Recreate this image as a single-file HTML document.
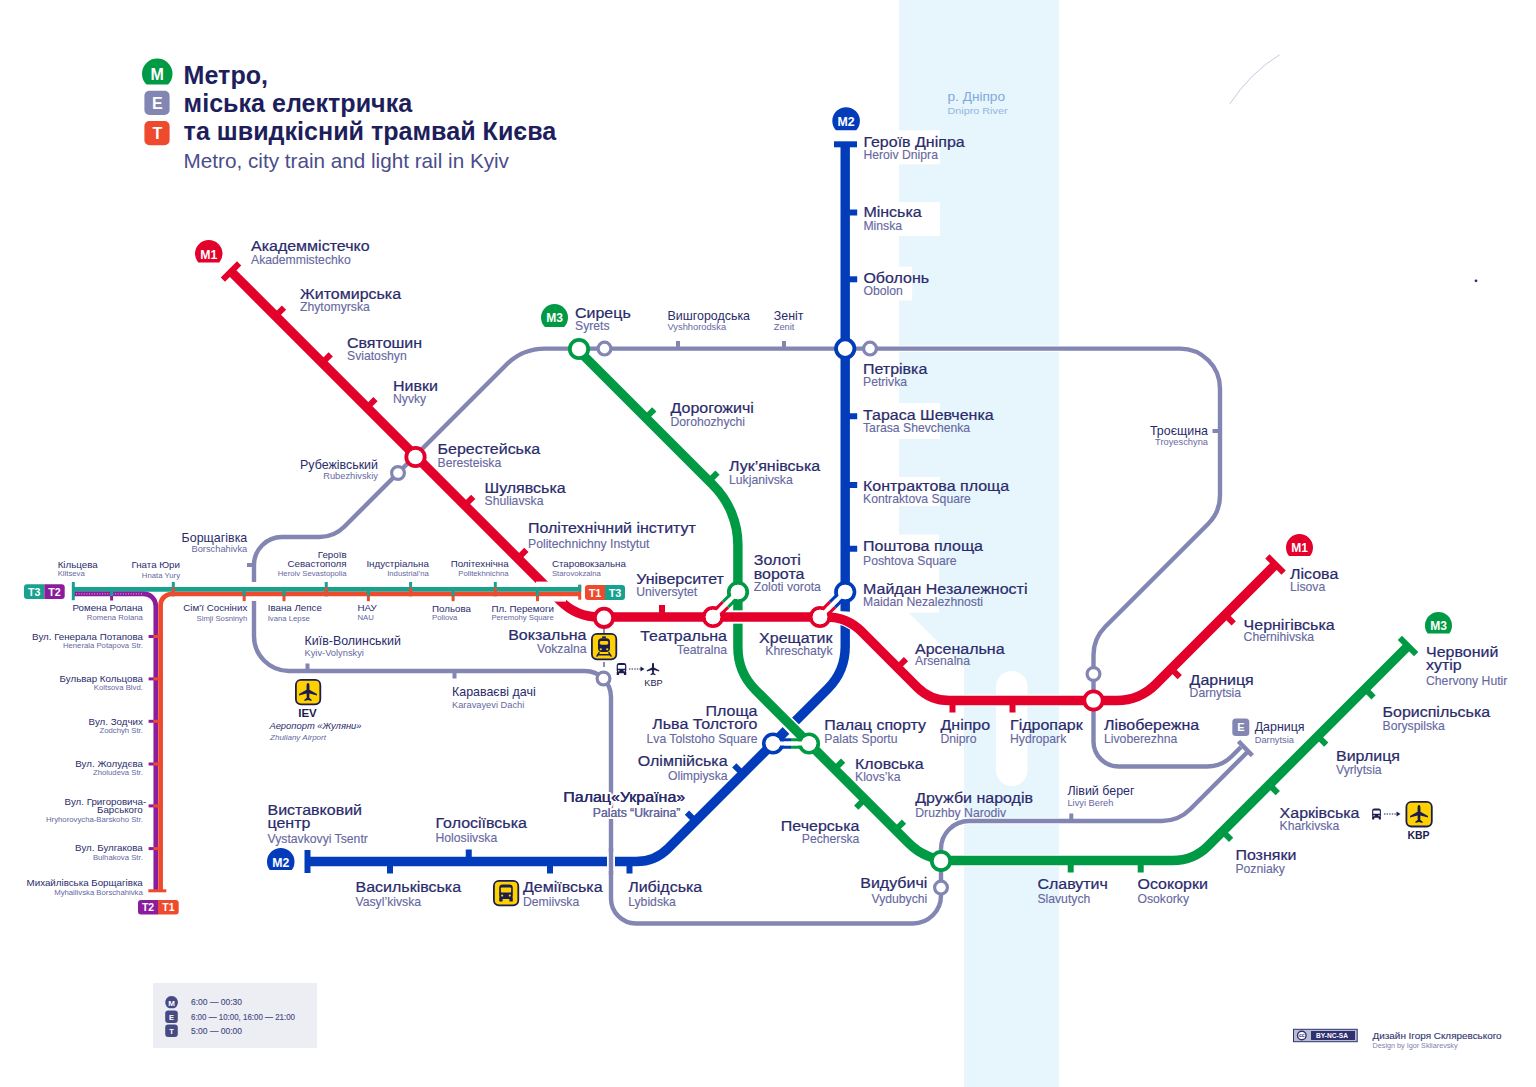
<!DOCTYPE html><html><head><meta charset="utf-8"><style>html,body{margin:0;padding:0;background:#fff;overflow:hidden}svg{display:block}text{font-family:"Liberation Sans",sans-serif}</style></head><body>
<svg width="1536" height="1087" viewBox="0 0 1536 1087">
<rect x="0.00" y="0.00" width="1536.00" height="1087.00" rx="0" fill="#ffffff" />
<polygon points="899,0 1059,0 1059,1087 964,1087 964,668 899,603" fill="#e7f5fd"/>
<rect x="996.00" y="671.00" width="31.50" height="115.00" rx="15.75" fill="#ffffff" />
<text x="947.50" y="101.30" font-size="12.6" fill="#7fa9dc" textLength="57.5" lengthAdjust="spacingAndGlyphs">р. Дніпро</text>
<text x="947.50" y="113.80" font-size="9.8" fill="#93b5e0" textLength="60" lengthAdjust="spacingAndGlyphs">Dnipro River</text>
<path d="M1241.00 747.00 L1231.75 756.25 A35.00 35.00 0 0 1 1207.00 766.50 L1118.50 766.50 A25.00 25.00 0 0 1 1093.50 741.50 L1093.50 655.07 A40.00 40.00 0 0 1 1105.22 626.78 L1208.28 523.72 A40.00 40.00 0 0 0 1220.00 495.43 L1220.00 388.60 A40.00 40.00 0 0 0 1180.00 348.60 L545.18 348.60 A55.00 55.00 0 0 0 506.29 364.71 L344.25 526.75 A35.00 35.00 0 0 1 319.50 537.00 L282.00 537.00 A28.00 28.00 0 0 0 254.00 565.00 L254.00 636.00 A35.00 35.00 0 0 0 289.00 671.00 L585.00 671.00 A26.00 26.00 0 0 1 611.00 697.00 L611.00 898.50 A25.00 25.00 0 0 0 636.00 923.50 L913.00 923.50 A28.00 28.00 0 0 0 941.00 895.50 L941.00 849.00 A28.00 28.00 0 0 1 969.00 821.00 L1161.93 821.00 A40.00 40.00 0 0 0 1190.22 809.28 L1247.00 752.50" fill="none" stroke="#ffffff" stroke-width="6.4" />
<path d="M1241.00 747.00 L1231.75 756.25 A35.00 35.00 0 0 1 1207.00 766.50 L1118.50 766.50 A25.00 25.00 0 0 1 1093.50 741.50 L1093.50 655.07 A40.00 40.00 0 0 1 1105.22 626.78 L1208.28 523.72 A40.00 40.00 0 0 0 1220.00 495.43 L1220.00 388.60 A40.00 40.00 0 0 0 1180.00 348.60 L545.18 348.60 A55.00 55.00 0 0 0 506.29 364.71 L344.25 526.75 A35.00 35.00 0 0 1 319.50 537.00 L282.00 537.00 A28.00 28.00 0 0 0 254.00 565.00 L254.00 636.00 A35.00 35.00 0 0 0 289.00 671.00 L585.00 671.00 A26.00 26.00 0 0 1 611.00 697.00 L611.00 898.50 A25.00 25.00 0 0 0 636.00 923.50 L913.00 923.50 A28.00 28.00 0 0 0 941.00 895.50 L941.00 849.00 A28.00 28.00 0 0 1 969.00 821.00 L1161.93 821.00 A40.00 40.00 0 0 0 1190.22 809.28 L1247.00 752.50" fill="none" stroke="#8385b2" stroke-width="4.4" />
<line x1="1238.50" y1="741.30" x2="1252.30" y2="755.60" stroke="#8385b2" stroke-width="4.5" stroke-linecap="butt"/>
<line x1="254.00" y1="565.00" x2="247.00" y2="565.00" stroke="#8385b2" stroke-width="4" stroke-linecap="butt"/>
<line x1="307.50" y1="671.00" x2="307.50" y2="663.50" stroke="#8385b2" stroke-width="4" stroke-linecap="butt"/>
<line x1="454.50" y1="671.00" x2="454.50" y2="678.50" stroke="#8385b2" stroke-width="4" stroke-linecap="butt"/>
<line x1="678.00" y1="348.60" x2="678.00" y2="341.00" stroke="#8385b2" stroke-width="4" stroke-linecap="butt"/>
<line x1="784.00" y1="348.60" x2="784.00" y2="341.00" stroke="#8385b2" stroke-width="4" stroke-linecap="butt"/>
<line x1="1220.00" y1="431.00" x2="1212.50" y2="431.00" stroke="#8385b2" stroke-width="4" stroke-linecap="butt"/>
<line x1="1071.30" y1="821.00" x2="1071.30" y2="813.50" stroke="#8385b2" stroke-width="4" stroke-linecap="butt"/>
<path d="M845.20 144.00 L845.20 646.45 A60.00 60.00 0 0 1 827.63 688.87 L668.18 848.32 A45.00 45.00 0 0 1 636.36 861.50 L307.50 861.50" fill="none" stroke="#023cba" stroke-width="9.4" />
<line x1="834.00" y1="144.30" x2="857.00" y2="144.30" stroke="#023cba" stroke-width="6" stroke-linecap="butt"/>
<line x1="845.20" y1="212.50" x2="857.20" y2="212.50" stroke="#023cba" stroke-width="6" stroke-linecap="butt"/>
<line x1="845.20" y1="279.30" x2="857.20" y2="279.30" stroke="#023cba" stroke-width="6" stroke-linecap="butt"/>
<line x1="845.20" y1="416.25" x2="857.20" y2="416.25" stroke="#023cba" stroke-width="6" stroke-linecap="butt"/>
<line x1="845.20" y1="485.00" x2="857.20" y2="485.00" stroke="#023cba" stroke-width="6" stroke-linecap="butt"/>
<line x1="845.20" y1="548.75" x2="857.20" y2="548.75" stroke="#023cba" stroke-width="6" stroke-linecap="butt"/>
<line x1="742.75" y1="773.75" x2="734.26" y2="765.26" stroke="#023cba" stroke-width="6" stroke-linecap="butt"/>
<line x1="695.45" y1="821.05" x2="686.96" y2="812.56" stroke="#023cba" stroke-width="6" stroke-linecap="butt"/>
<line x1="390.00" y1="861.50" x2="390.00" y2="873.50" stroke="#023cba" stroke-width="6" stroke-linecap="butt"/>
<line x1="550.00" y1="861.50" x2="550.00" y2="873.50" stroke="#023cba" stroke-width="6" stroke-linecap="butt"/>
<line x1="629.50" y1="861.50" x2="629.50" y2="873.50" stroke="#023cba" stroke-width="6" stroke-linecap="butt"/>
<line x1="468.75" y1="861.50" x2="468.75" y2="849.50" stroke="#023cba" stroke-width="6" stroke-linecap="butt"/>
<line x1="307.50" y1="850.00" x2="307.50" y2="873.00" stroke="#023cba" stroke-width="6" stroke-linecap="butt"/>
<line x1="611.00" y1="852.00" x2="611.00" y2="871.00" stroke="#ffffff" stroke-width="8" stroke-linecap="butt"/>
<line x1="611.00" y1="848.00" x2="611.00" y2="875.00" stroke="#8385b2" stroke-width="4.4" stroke-linecap="butt"/>
<line x1="781.00" y1="716.00" x2="801.00" y2="736.00" stroke="#ffffff" stroke-width="13.4" stroke-linecap="butt"/>
<path d="M579.00 351.00 L713.00 485.00 A85.00 85.00 0 0 1 737.90 545.11 L737.90 647.55 A60.00 60.00 0 0 0 755.47 689.97 L908.43 842.93 A60.00 60.00 0 0 0 950.85 860.50 L1172.79 860.50 A50.00 50.00 0 0 0 1208.14 845.86 L1408.00 646.00" fill="none" stroke="#ffffff" stroke-width="11.4" />
<path d="M579.00 351.00 L713.00 485.00 A85.00 85.00 0 0 1 737.90 545.11 L737.90 647.55 A60.00 60.00 0 0 0 755.47 689.97 L908.43 842.93 A60.00 60.00 0 0 0 950.85 860.50 L1172.79 860.50 A50.00 50.00 0 0 0 1208.14 845.86 L1408.00 646.00" fill="none" stroke="#009a44" stroke-width="9.4" />
<line x1="645.75" y1="417.75" x2="654.24" y2="409.26" stroke="#009a44" stroke-width="6" stroke-linecap="butt"/>
<line x1="709.00" y1="481.00" x2="717.49" y2="472.51" stroke="#009a44" stroke-width="6" stroke-linecap="butt"/>
<line x1="834.65" y1="769.15" x2="843.14" y2="760.66" stroke="#009a44" stroke-width="6" stroke-linecap="butt"/>
<line x1="895.50" y1="830.00" x2="903.99" y2="821.51" stroke="#009a44" stroke-width="6" stroke-linecap="butt"/>
<line x1="864.70" y1="799.20" x2="856.21" y2="807.69" stroke="#009a44" stroke-width="6" stroke-linecap="butt"/>
<line x1="1070.70" y1="860.50" x2="1070.70" y2="872.50" stroke="#009a44" stroke-width="6" stroke-linecap="butt"/>
<line x1="1140.70" y1="860.50" x2="1140.70" y2="872.50" stroke="#009a44" stroke-width="6" stroke-linecap="butt"/>
<line x1="1222.65" y1="831.35" x2="1231.14" y2="839.84" stroke="#009a44" stroke-width="6" stroke-linecap="butt"/>
<line x1="1269.30" y1="784.70" x2="1277.79" y2="793.19" stroke="#009a44" stroke-width="6" stroke-linecap="butt"/>
<line x1="1317.75" y1="736.25" x2="1326.24" y2="744.74" stroke="#009a44" stroke-width="6" stroke-linecap="butt"/>
<line x1="1365.05" y1="688.95" x2="1373.54" y2="697.44" stroke="#009a44" stroke-width="6" stroke-linecap="butt"/>
<line x1="1399.87" y1="637.87" x2="1416.13" y2="654.13" stroke="#009a44" stroke-width="6" stroke-linecap="butt"/>
<line x1="726.00" y1="617.00" x2="750.00" y2="617.00" stroke="#ffffff" stroke-width="13.4" stroke-linecap="butt"/>
<line x1="834.00" y1="617.50" x2="858.00" y2="619.00" stroke="#ffffff" stroke-width="13.4" stroke-linecap="butt"/>
<path d="M231.00 271.50 L560.39 600.89 A55.00 55.00 0 0 0 599.28 617.00 L826.29 617.00 A50.00 50.00 0 0 1 861.64 631.64 L917.32 687.32 A45.00 45.00 0 0 0 949.14 700.50 L1116.72 700.50 A55.00 55.00 0 0 0 1155.61 684.39 L1275.50 564.50" fill="none" stroke="#ffffff" stroke-width="11.4" />
<path d="M231.00 271.50 L560.39 600.89 A55.00 55.00 0 0 0 599.28 617.00 L826.29 617.00 A50.00 50.00 0 0 1 861.64 631.64 L917.32 687.32 A45.00 45.00 0 0 0 949.14 700.50 L1116.72 700.50 A55.00 55.00 0 0 0 1155.61 684.39 L1275.50 564.50" fill="none" stroke="#e3002b" stroke-width="9.4" />
<line x1="222.87" y1="279.63" x2="239.13" y2="263.37" stroke="#e3002b" stroke-width="6" stroke-linecap="butt"/>
<line x1="1267.37" y1="556.37" x2="1283.63" y2="572.63" stroke="#e3002b" stroke-width="6" stroke-linecap="butt"/>
<line x1="275.50" y1="316.00" x2="283.99" y2="307.51" stroke="#e3002b" stroke-width="6" stroke-linecap="butt"/>
<line x1="322.25" y1="362.75" x2="330.74" y2="354.26" stroke="#e3002b" stroke-width="6" stroke-linecap="butt"/>
<line x1="367.00" y1="407.50" x2="375.49" y2="399.01" stroke="#e3002b" stroke-width="6" stroke-linecap="butt"/>
<line x1="464.75" y1="505.25" x2="473.24" y2="496.76" stroke="#e3002b" stroke-width="6" stroke-linecap="butt"/>
<line x1="517.88" y1="558.38" x2="526.36" y2="549.89" stroke="#e3002b" stroke-width="6" stroke-linecap="butt"/>
<line x1="662.00" y1="617.00" x2="662.00" y2="605.00" stroke="#e3002b" stroke-width="6" stroke-linecap="butt"/>
<line x1="897.50" y1="667.50" x2="905.99" y2="659.01" stroke="#e3002b" stroke-width="6" stroke-linecap="butt"/>
<line x1="952.50" y1="700.50" x2="952.50" y2="712.50" stroke="#e3002b" stroke-width="6" stroke-linecap="butt"/>
<line x1="1012.50" y1="700.50" x2="1012.50" y2="712.50" stroke="#e3002b" stroke-width="6" stroke-linecap="butt"/>
<line x1="1171.25" y1="668.75" x2="1179.74" y2="677.24" stroke="#e3002b" stroke-width="6" stroke-linecap="butt"/>
<line x1="1225.20" y1="614.80" x2="1233.69" y2="623.29" stroke="#e3002b" stroke-width="6" stroke-linecap="butt"/>
<line x1="536.00" y1="591.60" x2="566.00" y2="591.60" stroke="#ffffff" stroke-width="20" stroke-linecap="butt"/>
<line x1="254.00" y1="582.00" x2="254.00" y2="601.00" stroke="#ffffff" stroke-width="8" stroke-linecap="butt"/>
<path d="M73.30 589.30 L579.70 589.30" fill="none" stroke="#17a290" stroke-width="4.7" />
<path d="M73.30 593.90 L143.80 593.90 A12.00 12.00 0 0 1 155.80 605.90 L155.80 891.00" fill="none" stroke="#8c1c9e" stroke-width="4.7" />
<path d="M579.70 594.00 L171.60 594.00 A11.00 11.00 0 0 0 160.60 605.00 L160.60 891.00" fill="none" stroke="#ee4b2e" stroke-width="4.7" />
<line x1="76" y1="593.9" x2="143" y2="593.9" stroke="#ffffff" stroke-width="0.9" stroke-dasharray="1 1.6" opacity="0.8"/>
<line x1="244.20" y1="591.60" x2="244.20" y2="601.20" stroke="#ee4b2e" stroke-width="3" stroke-linecap="butt"/>
<line x1="244.20" y1="587.00" x2="244.20" y2="596.20" stroke="#17a290" stroke-width="3" stroke-linecap="butt"/>
<line x1="284.00" y1="591.60" x2="284.00" y2="601.20" stroke="#ee4b2e" stroke-width="3" stroke-linecap="butt"/>
<line x1="284.00" y1="587.00" x2="284.00" y2="596.20" stroke="#17a290" stroke-width="3" stroke-linecap="butt"/>
<line x1="368.40" y1="591.60" x2="368.40" y2="601.20" stroke="#ee4b2e" stroke-width="3" stroke-linecap="butt"/>
<line x1="368.40" y1="587.00" x2="368.40" y2="596.20" stroke="#17a290" stroke-width="3" stroke-linecap="butt"/>
<line x1="453.10" y1="591.60" x2="453.10" y2="601.20" stroke="#ee4b2e" stroke-width="3" stroke-linecap="butt"/>
<line x1="453.10" y1="587.00" x2="453.10" y2="596.20" stroke="#17a290" stroke-width="3" stroke-linecap="butt"/>
<line x1="537.50" y1="591.60" x2="537.50" y2="601.20" stroke="#ee4b2e" stroke-width="3" stroke-linecap="butt"/>
<line x1="537.50" y1="587.00" x2="537.50" y2="596.20" stroke="#17a290" stroke-width="3" stroke-linecap="butt"/>
<line x1="173.30" y1="596.20" x2="173.30" y2="582.00" stroke="#17a290" stroke-width="3" stroke-linecap="butt"/>
<line x1="173.30" y1="596.20" x2="173.30" y2="587.50" stroke="#ee4b2e" stroke-width="3" stroke-linecap="butt"/>
<line x1="326.25" y1="596.20" x2="326.25" y2="582.00" stroke="#17a290" stroke-width="3" stroke-linecap="butt"/>
<line x1="326.25" y1="596.20" x2="326.25" y2="587.50" stroke="#ee4b2e" stroke-width="3" stroke-linecap="butt"/>
<line x1="410.60" y1="596.20" x2="410.60" y2="582.00" stroke="#17a290" stroke-width="3" stroke-linecap="butt"/>
<line x1="410.60" y1="596.20" x2="410.60" y2="587.50" stroke="#ee4b2e" stroke-width="3" stroke-linecap="butt"/>
<line x1="495.30" y1="596.20" x2="495.30" y2="582.00" stroke="#17a290" stroke-width="3" stroke-linecap="butt"/>
<line x1="495.30" y1="596.20" x2="495.30" y2="587.50" stroke="#ee4b2e" stroke-width="3" stroke-linecap="butt"/>
<line x1="111.60" y1="600.50" x2="111.60" y2="591.50" stroke="#8c1c9e" stroke-width="3" stroke-linecap="butt"/>
<line x1="111.60" y1="596.00" x2="111.60" y2="587.00" stroke="#17a290" stroke-width="3" stroke-linecap="butt"/>
<line x1="73.30" y1="582.00" x2="73.30" y2="600.20" stroke="#17a290" stroke-width="3" stroke-linecap="butt"/>
<line x1="579.70" y1="584.80" x2="579.70" y2="599.70" stroke="#ee4b2e" stroke-width="3" stroke-linecap="butt"/>
<line x1="579.70" y1="584.80" x2="579.70" y2="591.60" stroke="#17a290" stroke-width="3" stroke-linecap="butt"/>
<line x1="148.60" y1="636.50" x2="158.00" y2="636.50" stroke="#8c1c9e" stroke-width="3" stroke-linecap="butt"/>
<line x1="153.40" y1="636.50" x2="163.00" y2="636.50" stroke="#ee4b2e" stroke-width="3" stroke-linecap="butt"/>
<line x1="148.60" y1="678.90" x2="158.00" y2="678.90" stroke="#8c1c9e" stroke-width="3" stroke-linecap="butt"/>
<line x1="153.40" y1="678.90" x2="163.00" y2="678.90" stroke="#ee4b2e" stroke-width="3" stroke-linecap="butt"/>
<line x1="148.60" y1="721.30" x2="158.00" y2="721.30" stroke="#8c1c9e" stroke-width="3" stroke-linecap="butt"/>
<line x1="153.40" y1="721.30" x2="163.00" y2="721.30" stroke="#ee4b2e" stroke-width="3" stroke-linecap="butt"/>
<line x1="148.60" y1="764.00" x2="158.00" y2="764.00" stroke="#8c1c9e" stroke-width="3" stroke-linecap="butt"/>
<line x1="153.40" y1="764.00" x2="163.00" y2="764.00" stroke="#ee4b2e" stroke-width="3" stroke-linecap="butt"/>
<line x1="148.60" y1="805.90" x2="158.00" y2="805.90" stroke="#8c1c9e" stroke-width="3" stroke-linecap="butt"/>
<line x1="153.40" y1="805.90" x2="163.00" y2="805.90" stroke="#ee4b2e" stroke-width="3" stroke-linecap="butt"/>
<line x1="148.60" y1="848.60" x2="158.00" y2="848.60" stroke="#8c1c9e" stroke-width="3" stroke-linecap="butt"/>
<line x1="153.40" y1="848.60" x2="163.00" y2="848.60" stroke="#ee4b2e" stroke-width="3" stroke-linecap="butt"/>
<line x1="148.30" y1="890.80" x2="166.30" y2="890.80" stroke="#ee4b2e" stroke-width="3" stroke-linecap="butt"/>
<line x1="713.00" y1="617.00" x2="725.50" y2="604.50" stroke="#e3002b" stroke-width="10.5" stroke-linecap="butt"/>
<line x1="725.50" y1="604.50" x2="738.00" y2="592.00" stroke="#009a44" stroke-width="10.5" stroke-linecap="butt"/>
<line x1="713.00" y1="617.00" x2="738.00" y2="592.00" stroke="#ffffff" stroke-width="4" stroke-linecap="butt"/>
<line x1="820.00" y1="617.00" x2="832.60" y2="604.50" stroke="#e3002b" stroke-width="10.5" stroke-linecap="butt"/>
<line x1="832.60" y1="604.50" x2="845.20" y2="592.00" stroke="#023cba" stroke-width="10.5" stroke-linecap="butt"/>
<line x1="820.00" y1="617.00" x2="845.20" y2="592.00" stroke="#ffffff" stroke-width="4" stroke-linecap="butt"/>
<line x1="773.00" y1="743.50" x2="791.00" y2="743.50" stroke="#023cba" stroke-width="10.5" stroke-linecap="butt"/>
<line x1="791.00" y1="743.50" x2="809.00" y2="743.50" stroke="#009a44" stroke-width="10.5" stroke-linecap="butt"/>
<line x1="773.00" y1="743.50" x2="809.00" y2="743.50" stroke="#ffffff" stroke-width="4" stroke-linecap="butt"/>
<circle cx="415.50" cy="457.00" r="9.20" fill="#ffffff" stroke="#e3002b" stroke-width="3.8"/>
<circle cx="579.00" cy="349.00" r="9.20" fill="#ffffff" stroke="#009a44" stroke-width="3.8"/>
<circle cx="604.00" cy="617.80" r="9.20" fill="#ffffff" stroke="#e3002b" stroke-width="3.8"/>
<circle cx="713.00" cy="617.00" r="9.20" fill="#ffffff" stroke="#e3002b" stroke-width="3.8"/>
<circle cx="738.00" cy="592.00" r="9.20" fill="#ffffff" stroke="#009a44" stroke-width="3.8"/>
<circle cx="820.00" cy="617.00" r="9.20" fill="#ffffff" stroke="#e3002b" stroke-width="3.8"/>
<circle cx="845.20" cy="592.00" r="9.20" fill="#ffffff" stroke="#023cba" stroke-width="3.8"/>
<circle cx="773.00" cy="743.50" r="9.20" fill="#ffffff" stroke="#023cba" stroke-width="3.8"/>
<circle cx="809.00" cy="743.50" r="9.20" fill="#ffffff" stroke="#009a44" stroke-width="3.8"/>
<circle cx="845.20" cy="348.60" r="9.20" fill="#ffffff" stroke="#023cba" stroke-width="3.8"/>
<circle cx="941.00" cy="861.00" r="9.20" fill="#ffffff" stroke="#009a44" stroke-width="3.8"/>
<circle cx="1093.50" cy="700.50" r="9.20" fill="#ffffff" stroke="#e3002b" stroke-width="3.8"/>
<line x1="713.00" y1="617.00" x2="738.00" y2="592.00" stroke="#ffffff" stroke-width="4" stroke-linecap="butt"/>
<line x1="820.00" y1="617.00" x2="845.20" y2="592.00" stroke="#ffffff" stroke-width="4" stroke-linecap="butt"/>
<line x1="773.00" y1="743.50" x2="809.00" y2="743.50" stroke="#ffffff" stroke-width="4" stroke-linecap="butt"/>
<circle cx="713.00" cy="617.00" r="7.30" fill="#ffffff"/>
<circle cx="738.00" cy="592.00" r="7.30" fill="#ffffff"/>
<circle cx="820.00" cy="617.00" r="7.30" fill="#ffffff"/>
<circle cx="845.20" cy="592.00" r="7.30" fill="#ffffff"/>
<circle cx="773.00" cy="743.50" r="7.30" fill="#ffffff"/>
<circle cx="809.00" cy="743.50" r="7.30" fill="#ffffff"/>
<circle cx="604.50" cy="348.60" r="6.40" fill="#ffffff" stroke="#8385b2" stroke-width="3.2"/>
<circle cx="870.00" cy="348.60" r="6.40" fill="#ffffff" stroke="#8385b2" stroke-width="3.2"/>
<circle cx="398.00" cy="473.00" r="6.40" fill="#ffffff" stroke="#8385b2" stroke-width="3.2"/>
<circle cx="603.50" cy="678.50" r="6.40" fill="#ffffff" stroke="#8385b2" stroke-width="3.2"/>
<circle cx="941.00" cy="887.60" r="6.40" fill="#ffffff" stroke="#8385b2" stroke-width="3.2"/>
<circle cx="1093.50" cy="674.00" r="6.40" fill="#ffffff" stroke="#8385b2" stroke-width="3.2"/>
<rect x="899.00" y="130.30" width="41.00" height="34.00" rx="0" fill="#ffffff" />
<rect x="899.00" y="202.00" width="41.00" height="34.00" rx="0" fill="#ffffff" />
<rect x="899.00" y="266.50" width="13.20" height="34.00" rx="0" fill="#ffffff" />
<rect x="899.00" y="403.00" width="41.00" height="36.00" rx="0" fill="#ffffff" />
<rect x="899.00" y="477.00" width="41.00" height="29.00" rx="0" fill="#ffffff" />
<rect x="899.00" y="534.60" width="40.00" height="78.00" rx="0" fill="#ffffff" />
<text x="251.00" y="251.00" font-size="15.3" fill="#2a2b6b" textLength="118.55" lengthAdjust="spacingAndGlyphs" stroke="#2a2b6b" stroke-width="0.22">Академмістечко</text>
<text x="251.00" y="264.00" font-size="12.2" fill="#66689f" textLength="99.67" lengthAdjust="spacingAndGlyphs" stroke="#66689f" stroke-width="0.12">Akademmistechko</text>
<text x="300.00" y="299.00" font-size="15.3" fill="#2a2b6b" textLength="101.1" lengthAdjust="spacingAndGlyphs" stroke="#2a2b6b" stroke-width="0.22">Житомирська</text>
<text x="300.00" y="311.00" font-size="12.2" fill="#66689f" textLength="69.82" lengthAdjust="spacingAndGlyphs" stroke="#66689f" stroke-width="0.12">Zhytomyrska</text>
<text x="347.00" y="347.50" font-size="15.3" fill="#2a2b6b" textLength="75.14" lengthAdjust="spacingAndGlyphs" stroke="#2a2b6b" stroke-width="0.22">Святошин</text>
<text x="347.00" y="360.00" font-size="12.2" fill="#66689f" textLength="59.68" lengthAdjust="spacingAndGlyphs" stroke="#66689f" stroke-width="0.12">Sviatoshyn</text>
<text x="393.00" y="390.50" font-size="15.3" fill="#2a2b6b" textLength="44.9" lengthAdjust="spacingAndGlyphs" stroke="#2a2b6b" stroke-width="0.22">Нивки</text>
<text x="393.00" y="403.00" font-size="12.2" fill="#66689f" textLength="33.21" lengthAdjust="spacingAndGlyphs" stroke="#66689f" stroke-width="0.12">Nyvky</text>
<text x="437.50" y="454.00" font-size="15.3" fill="#2a2b6b" textLength="102.69" lengthAdjust="spacingAndGlyphs" stroke="#2a2b6b" stroke-width="0.22">Берестейська</text>
<text x="437.50" y="467.00" font-size="12.2" fill="#66689f" textLength="63.74" lengthAdjust="spacingAndGlyphs" stroke="#66689f" stroke-width="0.12">Beresteiska</text>
<text x="484.50" y="492.50" font-size="15.3" fill="#2a2b6b" textLength="81.16" lengthAdjust="spacingAndGlyphs" stroke="#2a2b6b" stroke-width="0.22">Шулявська</text>
<text x="484.50" y="505.00" font-size="12.2" fill="#66689f" textLength="59.0" lengthAdjust="spacingAndGlyphs" stroke="#66689f" stroke-width="0.12">Shuliavska</text>
<text x="528.00" y="533.00" font-size="15.3" fill="#2a2b6b" textLength="167.88" lengthAdjust="spacingAndGlyphs" stroke="#2a2b6b" stroke-width="0.22">Політехнічний інститут</text>
<text x="528.00" y="547.50" font-size="12.2" fill="#66689f" textLength="121.38" lengthAdjust="spacingAndGlyphs" stroke="#66689f" stroke-width="0.12">Politechnichny Instytut</text>
<text x="586.50" y="640.30" font-size="15.3" fill="#2a2b6b" text-anchor="end" textLength="78.33" lengthAdjust="spacingAndGlyphs" stroke="#2a2b6b" stroke-width="0.22">Вокзальна</text>
<text x="586.50" y="652.50" font-size="12.2" fill="#66689f" text-anchor="end" textLength="49.51" lengthAdjust="spacingAndGlyphs" stroke="#66689f" stroke-width="0.12">Vokzalna</text>
<text x="636.25" y="583.75" font-size="15.3" fill="#2a2b6b" textLength="87.67" lengthAdjust="spacingAndGlyphs" stroke="#2a2b6b" stroke-width="0.22">Університет</text>
<text x="636.25" y="596.25" font-size="12.2" fill="#66689f" textLength="61.02" lengthAdjust="spacingAndGlyphs" stroke="#66689f" stroke-width="0.12">Universytet</text>
<text x="727.00" y="641.25" font-size="15.3" fill="#2a2b6b" text-anchor="end" textLength="86.78" lengthAdjust="spacingAndGlyphs" stroke="#2a2b6b" stroke-width="0.22">Театральна</text>
<text x="727.00" y="653.75" font-size="12.2" fill="#66689f" text-anchor="end" textLength="50.18" lengthAdjust="spacingAndGlyphs" stroke="#66689f" stroke-width="0.12">Teatralna</text>
<text x="753.75" y="565.00" font-size="15.3" fill="#2a2b6b" textLength="47.12" lengthAdjust="spacingAndGlyphs" stroke="#2a2b6b" stroke-width="0.22">Золоті</text>
<text x="753.75" y="578.75" font-size="15.3" fill="#2a2b6b" textLength="50.67" lengthAdjust="spacingAndGlyphs" stroke="#2a2b6b" stroke-width="0.22">ворота</text>
<text x="753.75" y="591.25" font-size="12.2" fill="#66689f" textLength="67.12" lengthAdjust="spacingAndGlyphs" stroke="#66689f" stroke-width="0.12">Zoloti vorota</text>
<text x="832.50" y="642.50" font-size="15.3" fill="#2a2b6b" text-anchor="end" textLength="73.39" lengthAdjust="spacingAndGlyphs" stroke="#2a2b6b" stroke-width="0.22">Хрещатик</text>
<text x="832.50" y="655.00" font-size="12.2" fill="#66689f" text-anchor="end" textLength="67.13" lengthAdjust="spacingAndGlyphs" stroke="#66689f" stroke-width="0.12">Khreschatyk</text>
<text x="863.00" y="593.75" font-size="15.3" fill="#2a2b6b" textLength="164.44" lengthAdjust="spacingAndGlyphs" stroke="#2a2b6b" stroke-width="0.22">Майдан Незалежності</text>
<text x="863.00" y="606.25" font-size="12.2" fill="#66689f" textLength="120.03" lengthAdjust="spacingAndGlyphs" stroke="#66689f" stroke-width="0.12">Maidan Nezalezhnosti</text>
<text x="915.00" y="653.75" font-size="15.3" fill="#2a2b6b" textLength="89.54" lengthAdjust="spacingAndGlyphs" stroke="#2a2b6b" stroke-width="0.22">Арсенальна</text>
<text x="915.00" y="665.00" font-size="12.2" fill="#66689f" textLength="54.93" lengthAdjust="spacingAndGlyphs" stroke="#66689f" stroke-width="0.12">Arsenalna</text>
<text x="940.50" y="730.00" font-size="15.3" fill="#2a2b6b" textLength="49.65" lengthAdjust="spacingAndGlyphs" stroke="#2a2b6b" stroke-width="0.22">Дніпро</text>
<text x="940.50" y="742.50" font-size="12.2" fill="#66689f" textLength="35.94" lengthAdjust="spacingAndGlyphs" stroke="#66689f" stroke-width="0.12">Dnipro</text>
<text x="1010.00" y="730.00" font-size="15.3" fill="#2a2b6b" textLength="72.76" lengthAdjust="spacingAndGlyphs" stroke="#2a2b6b" stroke-width="0.22">Гідропарк</text>
<text x="1010.00" y="742.50" font-size="12.2" fill="#66689f" textLength="56.27" lengthAdjust="spacingAndGlyphs" stroke="#66689f" stroke-width="0.12">Hydropark</text>
<text x="1104.00" y="729.60" font-size="15.3" fill="#2a2b6b" textLength="95.14" lengthAdjust="spacingAndGlyphs" stroke="#2a2b6b" stroke-width="0.22">Лівобережна</text>
<text x="1104.00" y="743.00" font-size="12.2" fill="#66689f" textLength="73.25" lengthAdjust="spacingAndGlyphs" stroke="#66689f" stroke-width="0.12">Livoberezhna</text>
<text x="1189.60" y="685.30" font-size="15.3" fill="#2a2b6b" textLength="64.19" lengthAdjust="spacingAndGlyphs" stroke="#2a2b6b" stroke-width="0.22">Дарниця</text>
<text x="1189.60" y="697.00" font-size="12.2" fill="#66689f" textLength="51.53" lengthAdjust="spacingAndGlyphs" stroke="#66689f" stroke-width="0.12">Darnytsia</text>
<text x="1243.60" y="629.50" font-size="15.3" fill="#2a2b6b" textLength="91.08" lengthAdjust="spacingAndGlyphs" stroke="#2a2b6b" stroke-width="0.22">Чернігівська</text>
<text x="1243.60" y="641.00" font-size="12.2" fill="#66689f" textLength="70.52" lengthAdjust="spacingAndGlyphs" stroke="#66689f" stroke-width="0.12">Chernihivska</text>
<text x="1290.00" y="579.20" font-size="15.3" fill="#2a2b6b" textLength="48.32" lengthAdjust="spacingAndGlyphs" stroke="#2a2b6b" stroke-width="0.22">Лісова</text>
<text x="1290.00" y="591.00" font-size="12.2" fill="#66689f" textLength="35.26" lengthAdjust="spacingAndGlyphs" stroke="#66689f" stroke-width="0.12">Lisova</text>
<text x="863.40" y="147.30" font-size="15.3" fill="#2a2b6b" textLength="101.29" lengthAdjust="spacingAndGlyphs" stroke="#2a2b6b" stroke-width="0.22">Героїв Дніпра</text>
<text x="863.40" y="159.00" font-size="12.2" fill="#66689f" textLength="74.58" lengthAdjust="spacingAndGlyphs" stroke="#66689f" stroke-width="0.12">Heroiv Dnipra</text>
<text x="863.40" y="217.30" font-size="15.3" fill="#2a2b6b" textLength="58.26" lengthAdjust="spacingAndGlyphs" stroke="#2a2b6b" stroke-width="0.22">Мінська</text>
<text x="863.40" y="229.70" font-size="12.2" fill="#66689f" textLength="38.64" lengthAdjust="spacingAndGlyphs" stroke="#66689f" stroke-width="0.12">Minska</text>
<text x="863.40" y="283.10" font-size="15.3" fill="#2a2b6b" textLength="65.69" lengthAdjust="spacingAndGlyphs" stroke="#2a2b6b" stroke-width="0.22">Оболонь</text>
<text x="863.40" y="295.20" font-size="12.2" fill="#66689f" textLength="39.34" lengthAdjust="spacingAndGlyphs" stroke="#66689f" stroke-width="0.12">Obolon</text>
<text x="863.00" y="373.75" font-size="15.3" fill="#2a2b6b" textLength="64.35" lengthAdjust="spacingAndGlyphs" stroke="#2a2b6b" stroke-width="0.22">Петрівка</text>
<text x="863.00" y="385.75" font-size="12.2" fill="#66689f" textLength="44.07" lengthAdjust="spacingAndGlyphs" stroke="#66689f" stroke-width="0.12">Petrivka</text>
<text x="863.00" y="419.50" font-size="15.3" fill="#2a2b6b" textLength="130.66" lengthAdjust="spacingAndGlyphs" stroke="#2a2b6b" stroke-width="0.22">Тараса Шевченка</text>
<text x="863.00" y="431.75" font-size="12.2" fill="#66689f" textLength="107.15" lengthAdjust="spacingAndGlyphs" stroke="#66689f" stroke-width="0.12">Tarasa Shevchenka</text>
<text x="863.00" y="490.50" font-size="15.3" fill="#2a2b6b" textLength="146.1" lengthAdjust="spacingAndGlyphs" stroke="#2a2b6b" stroke-width="0.22">Контрактова площа</text>
<text x="863.00" y="502.50" font-size="12.2" fill="#66689f" textLength="107.83" lengthAdjust="spacingAndGlyphs" stroke="#66689f" stroke-width="0.12">Kontraktova Square</text>
<text x="863.00" y="551.25" font-size="15.3" fill="#2a2b6b" textLength="119.99" lengthAdjust="spacingAndGlyphs" stroke="#2a2b6b" stroke-width="0.22">Поштова площа</text>
<text x="863.00" y="564.50" font-size="12.2" fill="#66689f" textLength="93.59" lengthAdjust="spacingAndGlyphs" stroke="#66689f" stroke-width="0.12">Poshtova Square</text>
<text x="757.50" y="716.25" font-size="15.3" fill="#2a2b6b" text-anchor="end" textLength="51.94" lengthAdjust="spacingAndGlyphs" stroke="#2a2b6b" stroke-width="0.22">Площа</text>
<text x="757.50" y="728.75" font-size="15.3" fill="#2a2b6b" text-anchor="end" textLength="105.25" lengthAdjust="spacingAndGlyphs" stroke="#2a2b6b" stroke-width="0.22">Льва Толстого</text>
<text x="757.50" y="742.50" font-size="12.2" fill="#66689f" text-anchor="end" textLength="111.0" lengthAdjust="spacingAndGlyphs" stroke="#66689f" stroke-width="0.12">Lva Tolstoho Square</text>
<text x="727.60" y="765.80" font-size="15.3" fill="#2a2b6b" text-anchor="end" textLength="89.83" lengthAdjust="spacingAndGlyphs" stroke="#2a2b6b" stroke-width="0.22">Олімпійська</text>
<text x="727.60" y="779.50" font-size="12.2" fill="#66689f" text-anchor="end" textLength="59.65" lengthAdjust="spacingAndGlyphs" stroke="#66689f" stroke-width="0.12">Olimpiyska</text>
<text x="685.20" y="801.60" font-size="15.3" fill="#2a2b6b" text-anchor="end" textLength="121.92" lengthAdjust="spacingAndGlyphs" stroke="#ffffff" stroke-width="4" stroke-linejoin="round" paint-order="stroke">Палац«Україна»</text>
<text x="685.20" y="801.60" font-size="15.3" fill="#2a2b6b" text-anchor="end" textLength="121.92" lengthAdjust="spacingAndGlyphs" stroke="#2a2b6b" stroke-width="0.22">Палац«Україна»</text>
<text x="680.30" y="816.80" font-size="12.2" fill="#66689f" text-anchor="end" textLength="87.46" lengthAdjust="spacingAndGlyphs" stroke="#ffffff" stroke-width="4" stroke-linejoin="round" paint-order="stroke">Palats “Ukraina”</text>
<text x="680.30" y="816.80" font-size="12.2" fill="#66689f" text-anchor="end" textLength="87.46" lengthAdjust="spacingAndGlyphs" stroke="#66689f" stroke-width="0.12">Palats “Ukraina”</text>
<text x="628.20" y="891.90" font-size="15.3" fill="#2a2b6b" textLength="74.02" lengthAdjust="spacingAndGlyphs" stroke="#2a2b6b" stroke-width="0.22">Либідська</text>
<text x="628.20" y="906.00" font-size="12.2" fill="#66689f" textLength="47.7" lengthAdjust="spacingAndGlyphs" stroke="#66689f" stroke-width="0.12">Lybidska</text>
<text x="523.00" y="892.00" font-size="15.3" fill="#2a2b6b" textLength="79.58" lengthAdjust="spacingAndGlyphs" stroke="#2a2b6b" stroke-width="0.22">Деміївська</text>
<text x="523.00" y="906.00" font-size="12.2" fill="#66689f" textLength="56.26" lengthAdjust="spacingAndGlyphs" stroke="#66689f" stroke-width="0.12">Demiivska</text>
<text x="435.50" y="828.00" font-size="15.3" fill="#2a2b6b" textLength="91.39" lengthAdjust="spacingAndGlyphs" stroke="#2a2b6b" stroke-width="0.22">Голосіївська</text>
<text x="435.50" y="842.00" font-size="12.2" fill="#66689f" textLength="61.7" lengthAdjust="spacingAndGlyphs" stroke="#66689f" stroke-width="0.12">Holosiivska</text>
<text x="355.50" y="892.00" font-size="15.3" fill="#2a2b6b" textLength="105.56" lengthAdjust="spacingAndGlyphs" stroke="#2a2b6b" stroke-width="0.22">Васильківська</text>
<text x="355.50" y="906.25" font-size="12.2" fill="#66689f" textLength="65.53" lengthAdjust="spacingAndGlyphs" stroke="#66689f" stroke-width="0.12">Vasyl’kivska</text>
<text x="267.50" y="815.00" font-size="15.3" fill="#2a2b6b" textLength="94.54" lengthAdjust="spacingAndGlyphs" stroke="#2a2b6b" stroke-width="0.22">Виставковий</text>
<text x="267.50" y="828.00" font-size="15.3" fill="#2a2b6b" textLength="42.91" lengthAdjust="spacingAndGlyphs" stroke="#2a2b6b" stroke-width="0.22">центр</text>
<text x="267.50" y="842.50" font-size="12.2" fill="#66689f" textLength="100.34" lengthAdjust="spacingAndGlyphs" stroke="#66689f" stroke-width="0.12">Vystavkovyi Tsentr</text>
<text x="575.00" y="317.50" font-size="15.3" fill="#2a2b6b" textLength="55.75" lengthAdjust="spacingAndGlyphs" stroke="#2a2b6b" stroke-width="0.22">Сирець</text>
<text x="575.00" y="330.00" font-size="12.2" fill="#66689f" textLength="34.57" lengthAdjust="spacingAndGlyphs" stroke="#66689f" stroke-width="0.12">Syrets</text>
<text x="670.50" y="413.00" font-size="15.3" fill="#2a2b6b" textLength="83.38" lengthAdjust="spacingAndGlyphs" stroke="#2a2b6b" stroke-width="0.22">Дорогожичі</text>
<text x="670.50" y="426.00" font-size="12.2" fill="#66689f" textLength="74.59" lengthAdjust="spacingAndGlyphs" stroke="#66689f" stroke-width="0.12">Dorohozhychi</text>
<text x="729.00" y="471.00" font-size="15.3" fill="#2a2b6b" textLength="91.13" lengthAdjust="spacingAndGlyphs" stroke="#2a2b6b" stroke-width="0.22">Лук’янівська</text>
<text x="729.00" y="484.00" font-size="12.2" fill="#66689f" textLength="63.74" lengthAdjust="spacingAndGlyphs" stroke="#66689f" stroke-width="0.12">Lukjanivska</text>
<text x="824.25" y="730.00" font-size="15.3" fill="#2a2b6b" textLength="101.78" lengthAdjust="spacingAndGlyphs" stroke="#2a2b6b" stroke-width="0.22">Палац спорту</text>
<text x="824.25" y="742.50" font-size="12.2" fill="#66689f" textLength="73.24" lengthAdjust="spacingAndGlyphs" stroke="#66689f" stroke-width="0.12">Palats Sportu</text>
<text x="855.00" y="768.70" font-size="15.3" fill="#2a2b6b" textLength="68.59" lengthAdjust="spacingAndGlyphs" stroke="#2a2b6b" stroke-width="0.22">Кловська</text>
<text x="855.00" y="780.70" font-size="12.2" fill="#66689f" textLength="45.43" lengthAdjust="spacingAndGlyphs" stroke="#66689f" stroke-width="0.12">Klovs’ka</text>
<text x="859.40" y="831.20" font-size="15.3" fill="#2a2b6b" text-anchor="end" textLength="78.53" lengthAdjust="spacingAndGlyphs" stroke="#2a2b6b" stroke-width="0.22">Печерська</text>
<text x="859.40" y="843.00" font-size="12.2" fill="#66689f" text-anchor="end" textLength="57.64" lengthAdjust="spacingAndGlyphs" stroke="#66689f" stroke-width="0.12">Pecherska</text>
<text x="915.30" y="803.20" font-size="15.3" fill="#2a2b6b" textLength="117.64" lengthAdjust="spacingAndGlyphs" stroke="#2a2b6b" stroke-width="0.22">Дружби народів</text>
<text x="915.30" y="816.60" font-size="12.2" fill="#66689f" textLength="90.85" lengthAdjust="spacingAndGlyphs" stroke="#66689f" stroke-width="0.12">Druzhby Narodiv</text>
<text x="927.30" y="888.40" font-size="15.3" fill="#2a2b6b" text-anchor="end" textLength="67.07" lengthAdjust="spacingAndGlyphs" stroke="#2a2b6b" stroke-width="0.22">Видубичі</text>
<text x="927.30" y="902.80" font-size="12.2" fill="#66689f" text-anchor="end" textLength="55.83" lengthAdjust="spacingAndGlyphs" stroke="#66689f" stroke-width="0.12">Vydubychi</text>
<text x="1037.40" y="888.50" font-size="15.3" fill="#2a2b6b" textLength="70.48" lengthAdjust="spacingAndGlyphs" stroke="#2a2b6b" stroke-width="0.22">Славутич</text>
<text x="1037.40" y="903.00" font-size="12.2" fill="#66689f" textLength="52.89" lengthAdjust="spacingAndGlyphs" stroke="#66689f" stroke-width="0.12">Slavutych</text>
<text x="1137.50" y="888.50" font-size="15.3" fill="#2a2b6b" textLength="70.38" lengthAdjust="spacingAndGlyphs" stroke="#2a2b6b" stroke-width="0.22">Осокорки</text>
<text x="1137.50" y="903.00" font-size="12.2" fill="#66689f" textLength="51.52" lengthAdjust="spacingAndGlyphs" stroke="#66689f" stroke-width="0.12">Osokorky</text>
<text x="1235.40" y="860.00" font-size="15.3" fill="#2a2b6b" textLength="60.95" lengthAdjust="spacingAndGlyphs" stroke="#2a2b6b" stroke-width="0.22">Позняки</text>
<text x="1235.40" y="873.00" font-size="12.2" fill="#66689f" textLength="49.5" lengthAdjust="spacingAndGlyphs" stroke="#66689f" stroke-width="0.12">Pozniaky</text>
<text x="1279.60" y="817.50" font-size="15.3" fill="#2a2b6b" textLength="79.87" lengthAdjust="spacingAndGlyphs" stroke="#2a2b6b" stroke-width="0.22">Харківська</text>
<text x="1279.60" y="830.40" font-size="12.2" fill="#66689f" textLength="59.66" lengthAdjust="spacingAndGlyphs" stroke="#66689f" stroke-width="0.12">Kharkivska</text>
<text x="1336.00" y="760.60" font-size="15.3" fill="#2a2b6b" textLength="64.02" lengthAdjust="spacingAndGlyphs" stroke="#2a2b6b" stroke-width="0.22">Вирлиця</text>
<text x="1336.00" y="774.00" font-size="12.2" fill="#66689f" textLength="45.64" lengthAdjust="spacingAndGlyphs" stroke="#66689f" stroke-width="0.12">Vyrlytsia</text>
<text x="1382.50" y="717.00" font-size="15.3" fill="#2a2b6b" textLength="107.63" lengthAdjust="spacingAndGlyphs" stroke="#2a2b6b" stroke-width="0.22">Бориспільська</text>
<text x="1382.50" y="729.60" font-size="12.2" fill="#66689f" textLength="62.37" lengthAdjust="spacingAndGlyphs" stroke="#66689f" stroke-width="0.12">Boryspilska</text>
<text x="1426.00" y="656.70" font-size="15.3" fill="#2a2b6b" textLength="72.34" lengthAdjust="spacingAndGlyphs" stroke="#2a2b6b" stroke-width="0.22">Червоний</text>
<text x="1426.00" y="669.80" font-size="15.3" fill="#2a2b6b" textLength="35.75" lengthAdjust="spacingAndGlyphs" stroke="#2a2b6b" stroke-width="0.22">хутір</text>
<text x="1426.00" y="684.70" font-size="12.2" fill="#66689f" textLength="81.36" lengthAdjust="spacingAndGlyphs" stroke="#66689f" stroke-width="0.12">Chervony Hutir</text>
<text x="667.50" y="320.00" font-size="11.9" fill="#2a2b6b" textLength="82.53" lengthAdjust="spacingAndGlyphs">Вишгородська</text>
<text x="667.50" y="330.00" font-size="9.3" fill="#66689f" textLength="58.59" lengthAdjust="spacingAndGlyphs">Vyshhorodska</text>
<text x="773.75" y="320.00" font-size="11.9" fill="#2a2b6b" textLength="29.75" lengthAdjust="spacingAndGlyphs">Зеніт</text>
<text x="773.75" y="330.00" font-size="9.3" fill="#66689f" textLength="20.67" lengthAdjust="spacingAndGlyphs">Zenit</text>
<text x="1208.00" y="435.00" font-size="11.9" fill="#2a2b6b" text-anchor="end" textLength="58.03" lengthAdjust="spacingAndGlyphs">Троєщина</text>
<text x="1208.00" y="445.00" font-size="9.3" fill="#66689f" text-anchor="end" textLength="52.89" lengthAdjust="spacingAndGlyphs">Troyeschyna</text>
<text x="378.00" y="469.00" font-size="11.9" fill="#2a2b6b" text-anchor="end" textLength="77.99" lengthAdjust="spacingAndGlyphs">Рубежівський</text>
<text x="378.00" y="479.00" font-size="9.3" fill="#66689f" text-anchor="end" textLength="54.79" lengthAdjust="spacingAndGlyphs">Rubezhivskiy</text>
<text x="247.30" y="541.70" font-size="11.9" fill="#2a2b6b" text-anchor="end" textLength="65.67" lengthAdjust="spacingAndGlyphs">Борщагівка</text>
<text x="247.30" y="551.90" font-size="9.3" fill="#66689f" text-anchor="end" textLength="55.82" lengthAdjust="spacingAndGlyphs">Borschahivka</text>
<text x="304.50" y="645.00" font-size="11.9" fill="#2a2b6b" textLength="96.43" lengthAdjust="spacingAndGlyphs">Київ-Волинський</text>
<text x="304.50" y="656.25" font-size="9.3" fill="#66689f" textLength="59.43" lengthAdjust="spacingAndGlyphs">Kyiv-Volynskyi</text>
<text x="452.00" y="696.25" font-size="11.9" fill="#2a2b6b" textLength="83.68" lengthAdjust="spacingAndGlyphs">Караваєві дачі</text>
<text x="452.00" y="707.50" font-size="9.3" fill="#66689f" textLength="72.36" lengthAdjust="spacingAndGlyphs">Karavayevi Dachi</text>
<text x="1067.40" y="794.90" font-size="11.9" fill="#2a2b6b" textLength="67.14" lengthAdjust="spacingAndGlyphs">Лівий берег</text>
<text x="1067.40" y="805.50" font-size="9.3" fill="#66689f" textLength="46.0" lengthAdjust="spacingAndGlyphs">Livyi Bereh</text>
<text x="1254.70" y="731.00" font-size="11.9" fill="#2a2b6b" textLength="49.92" lengthAdjust="spacingAndGlyphs">Дарниця</text>
<text x="1254.70" y="743.00" font-size="9.3" fill="#66689f" textLength="39.28" lengthAdjust="spacingAndGlyphs">Darnytsia</text>
<text x="57.70" y="568.10" font-size="9.2" fill="#2a2b6b" textLength="40.01" lengthAdjust="spacingAndGlyphs">Кільцева</text>
<text x="57.70" y="575.60" font-size="7.3" fill="#66689f" textLength="27.09" lengthAdjust="spacingAndGlyphs">Kiltseva</text>
<text x="180.00" y="568.00" font-size="9.2" fill="#2a2b6b" text-anchor="end" textLength="48.54" lengthAdjust="spacingAndGlyphs">Гната Юри</text>
<text x="180.00" y="578.00" font-size="7.3" fill="#66689f" text-anchor="end" textLength="38.14" lengthAdjust="spacingAndGlyphs">Hnata Yury</text>
<text x="142.80" y="611.00" font-size="9.2" fill="#2a2b6b" text-anchor="end" textLength="70.35" lengthAdjust="spacingAndGlyphs">Ромена Ролана</text>
<text x="142.80" y="620.00" font-size="7.3" fill="#66689f" text-anchor="end" textLength="55.92" lengthAdjust="spacingAndGlyphs">Romena Rolana</text>
<text x="247.30" y="611.25" font-size="9.2" fill="#2a2b6b" text-anchor="end" textLength="64.1" lengthAdjust="spacingAndGlyphs">Сім’ї Сосніних</text>
<text x="247.30" y="620.60" font-size="7.3" fill="#66689f" text-anchor="end" textLength="50.75" lengthAdjust="spacingAndGlyphs">Simji Sosninyh</text>
<text x="346.60" y="558.00" font-size="9.2" fill="#2a2b6b" text-anchor="end" textLength="28.79" lengthAdjust="spacingAndGlyphs">Героїв</text>
<text x="346.60" y="566.70" font-size="9.2" fill="#2a2b6b" text-anchor="end" textLength="59.08" lengthAdjust="spacingAndGlyphs">Севастополя</text>
<text x="346.60" y="576.00" font-size="7.3" fill="#66689f" text-anchor="end" textLength="68.82" lengthAdjust="spacingAndGlyphs">Heroiv Sevastopolia</text>
<text x="267.70" y="611.25" font-size="9.2" fill="#2a2b6b" textLength="54.12" lengthAdjust="spacingAndGlyphs">Івана Лепсе</text>
<text x="267.70" y="620.60" font-size="7.3" fill="#66689f" textLength="42.16" lengthAdjust="spacingAndGlyphs">Ivana Lepse</text>
<text x="357.50" y="611.00" font-size="9.2" fill="#2a2b6b" textLength="19.32" lengthAdjust="spacingAndGlyphs">НАУ</text>
<text x="357.50" y="620.00" font-size="7.3" fill="#66689f" textLength="16.34" lengthAdjust="spacingAndGlyphs">NAU</text>
<text x="428.90" y="566.90" font-size="9.2" fill="#2a2b6b" text-anchor="end" textLength="62.48" lengthAdjust="spacingAndGlyphs">Індустріальна</text>
<text x="428.90" y="575.50" font-size="7.3" fill="#66689f" text-anchor="end" textLength="41.72" lengthAdjust="spacingAndGlyphs">Industrial’na</text>
<text x="508.60" y="566.90" font-size="9.2" fill="#2a2b6b" text-anchor="end" textLength="57.95" lengthAdjust="spacingAndGlyphs">Політехнічна</text>
<text x="508.60" y="575.50" font-size="7.3" fill="#66689f" text-anchor="end" textLength="50.33" lengthAdjust="spacingAndGlyphs">Politekhnichna</text>
<text x="551.90" y="566.90" font-size="9.2" fill="#2a2b6b" textLength="74.01" lengthAdjust="spacingAndGlyphs">Старовокзальна</text>
<text x="551.90" y="575.50" font-size="7.3" fill="#66689f" textLength="49.03" lengthAdjust="spacingAndGlyphs">Starovokzalna</text>
<text x="432.00" y="611.90" font-size="9.2" fill="#2a2b6b" textLength="38.9" lengthAdjust="spacingAndGlyphs">Польова</text>
<text x="432.00" y="619.70" font-size="7.3" fill="#66689f" textLength="25.38" lengthAdjust="spacingAndGlyphs">Poliova</text>
<text x="491.40" y="611.90" font-size="9.2" fill="#2a2b6b" textLength="62.53" lengthAdjust="spacingAndGlyphs">Пл. Перемоги</text>
<text x="491.40" y="619.70" font-size="7.3" fill="#66689f" textLength="62.36" lengthAdjust="spacingAndGlyphs">Peremohy Square</text>
<text x="142.90" y="639.90" font-size="9.2" fill="#2a2b6b" text-anchor="end" textLength="110.89" lengthAdjust="spacingAndGlyphs">Вул. Генерала Потапова</text>
<text x="142.90" y="648.00" font-size="7.3" fill="#66689f" text-anchor="end" textLength="80.0" lengthAdjust="spacingAndGlyphs">Henerala Potapova Str.</text>
<text x="142.90" y="681.50" font-size="9.2" fill="#2a2b6b" text-anchor="end" textLength="83.29" lengthAdjust="spacingAndGlyphs">Бульвар Кольцова</text>
<text x="142.90" y="690.40" font-size="7.3" fill="#66689f" text-anchor="end" textLength="49.03" lengthAdjust="spacingAndGlyphs">Koltsova Blvd.</text>
<text x="142.90" y="724.50" font-size="9.2" fill="#2a2b6b" text-anchor="end" textLength="54.36" lengthAdjust="spacingAndGlyphs">Вул. Зодчих</text>
<text x="142.90" y="733.00" font-size="7.3" fill="#66689f" text-anchor="end" textLength="43.44" lengthAdjust="spacingAndGlyphs">Zodchyh Str.</text>
<text x="142.90" y="767.20" font-size="9.2" fill="#2a2b6b" text-anchor="end" textLength="67.67" lengthAdjust="spacingAndGlyphs">Вул. Жолудєва</text>
<text x="142.90" y="775.30" font-size="7.3" fill="#66689f" text-anchor="end" textLength="49.89" lengthAdjust="spacingAndGlyphs">Zholudeva Str.</text>
<text x="142.80" y="813.10" font-size="9.2" fill="#2a2b6b" text-anchor="end" textLength="45.77" lengthAdjust="spacingAndGlyphs">Барського</text>
<text x="142.80" y="822.10" font-size="7.3" fill="#66689f" text-anchor="end" textLength="96.76" lengthAdjust="spacingAndGlyphs">Hryhorovycha-Barskoho Str.</text>
<text x="146.30" y="804.60" font-size="9.2" fill="#2a2b6b" text-anchor="end" textLength="81.76" lengthAdjust="spacingAndGlyphs">Вул. Григоровича-</text>
<text x="142.80" y="851.30" font-size="9.2" fill="#2a2b6b" text-anchor="end" textLength="67.76" lengthAdjust="spacingAndGlyphs">Вул. Булгакова</text>
<text x="142.80" y="860.00" font-size="7.3" fill="#66689f" text-anchor="end" textLength="49.89" lengthAdjust="spacingAndGlyphs">Bulhakova Str.</text>
<text x="142.80" y="886.30" font-size="9.2" fill="#2a2b6b" text-anchor="end" textLength="116.21" lengthAdjust="spacingAndGlyphs">Михайлівська Борщагівка</text>
<text x="142.80" y="895.20" font-size="7.3" fill="#66689f" text-anchor="end" textLength="88.59" lengthAdjust="spacingAndGlyphs">Myhailivska Borschahivka</text>
<path d="M146.43 84.50 A15.25 15.25 0 1 1 168.07 84.50 Z" fill="#009a44"/>
<text x="157.25" y="79.81" font-size="16" fill="#ffffff" text-anchor="middle" font-weight="bold" textLength="13.33" lengthAdjust="spacingAndGlyphs">M</text>
<rect x="144.40" y="90.70" width="25.20" height="24.30" rx="5" fill="#8385b2" />
<text x="157.30" y="108.80" font-size="16" fill="#ffffff" text-anchor="middle" font-weight="bold">E</text>
<rect x="144.40" y="121.00" width="25.20" height="24.20" rx="5" fill="#ee4b2e" />
<text x="157.30" y="139.10" font-size="16" fill="#ffffff" text-anchor="middle" font-weight="bold">T</text>
<text x="183.60" y="84.40" font-size="25.1" fill="#1d1e5b" font-weight="bold">Метро,</text>
<text x="183.60" y="111.60" font-size="25.1" fill="#1d1e5b" font-weight="bold">міська електричка</text>
<text x="183.60" y="140.30" font-size="25.1" fill="#1d1e5b" font-weight="bold">та швидкісний трамвай Києва</text>
<text x="183.60" y="167.50" font-size="20.7" fill="#4b4d8a">Metro, city train and light rail in Kyiv</text>
<path d="M198.14 262.50 A13.75 13.75 0 1 1 219.36 262.50 Z" fill="#e3002b"/>
<text x="208.75" y="258.73" font-size="13" fill="#ffffff" text-anchor="middle" font-weight="bold" textLength="17.05" lengthAdjust="spacingAndGlyphs">M1</text>
<path d="M544.91 327.00 A13.50 13.50 0 1 1 564.09 327.00 Z" fill="#009a44"/>
<text x="554.50" y="322.48" font-size="13" fill="#ffffff" text-anchor="middle" font-weight="bold" textLength="16.74" lengthAdjust="spacingAndGlyphs">M3</text>
<path d="M835.90 130.30 A13.80 13.80 0 1 1 856.30 130.30 Z" fill="#023cba"/>
<text x="846.10" y="125.98" font-size="13" fill="#ffffff" text-anchor="middle" font-weight="bold" textLength="17.11" lengthAdjust="spacingAndGlyphs">M2</text>
<path d="M269.75 870.00 A13.75 13.75 0 1 1 291.75 870.00 Z" fill="#023cba"/>
<text x="280.75" y="866.73" font-size="13" fill="#ffffff" text-anchor="middle" font-weight="bold" textLength="17.05" lengthAdjust="spacingAndGlyphs">M2</text>
<path d="M1289.01 556.00 A13.50 13.50 0 1 1 1309.99 556.00 Z" fill="#e3002b"/>
<text x="1299.50" y="552.48" font-size="13" fill="#ffffff" text-anchor="middle" font-weight="bold" textLength="16.74" lengthAdjust="spacingAndGlyphs">M1</text>
<path d="M1427.63 633.50 A13.50 13.50 0 1 1 1449.37 633.50 Z" fill="#009a44"/>
<text x="1438.50" y="630.48" font-size="13" fill="#ffffff" text-anchor="middle" font-weight="bold" textLength="16.74" lengthAdjust="spacingAndGlyphs">M3</text>
<path d="M27.00 584.20 H44.40 V599.00 H27.00 Q24.00 599.00 24.00 596.00 V587.20 Q24.00 584.20 27.00 584.20 Z" fill="#17a290"/>
<path d="M44.40 584.20 H61.70 Q64.70 584.20 64.70 587.20 V596.00 Q64.70 599.00 61.70 599.00 H44.40 Z" fill="#8c1c9e"/>
<text x="34.20" y="595.74" font-size="10.655999999999967" fill="#ffffff" text-anchor="middle" font-weight="bold">T3</text>
<text x="54.55" y="595.74" font-size="10.655999999999967" fill="#ffffff" text-anchor="middle" font-weight="bold">T2</text>
<path d="M588.00 585.00 H605.00 V600.00 H588.00 Q585.00 600.00 585.00 597.00 V588.00 Q585.00 585.00 588.00 585.00 Z" fill="#ee4b2e"/>
<path d="M605.00 585.00 H622.00 Q625.00 585.00 625.00 588.00 V597.00 Q625.00 600.00 622.00 600.00 H605.00 Z" fill="#17a290"/>
<text x="595.00" y="596.70" font-size="10.799999999999999" fill="#ffffff" text-anchor="middle" font-weight="bold">T1</text>
<text x="615.00" y="596.70" font-size="10.799999999999999" fill="#ffffff" text-anchor="middle" font-weight="bold">T3</text>
<path d="M141.00 900.00 H158.00 V914.50 H141.00 Q138.00 914.50 138.00 911.50 V903.00 Q138.00 900.00 141.00 900.00 Z" fill="#8c1c9e"/>
<path d="M158.00 900.00 H175.70 Q178.70 900.00 178.70 903.00 V911.50 Q178.70 914.50 175.70 914.50 H158.00 Z" fill="#ee4b2e"/>
<text x="148.00" y="911.31" font-size="10.44" fill="#ffffff" text-anchor="middle" font-weight="bold">T2</text>
<text x="168.35" y="911.31" font-size="10.44" fill="#ffffff" text-anchor="middle" font-weight="bold">T1</text>
<rect x="591.90" y="633.90" width="24.40" height="25.40" rx="5" fill="#ffd100" stroke="#1c1d4f" stroke-width="1.8"/>
<g transform="translate(604.00 646.50) scale(0.920)">
<rect x="-2" y="-11" width="4" height="2" fill="#1c1d4f"/>
<rect x="-6.5" y="-9" width="13" height="15" rx="4" fill="#1c1d4f"/>
<rect x="-4.5" y="-6" width="9" height="4" rx="1.5" fill="#ffd100"/>
<circle cx="-3.5" cy="3" r="1.2" fill="#ffd100"/>
<circle cx="3.5" cy="3" r="1.2" fill="#ffd100"/>
<path d="M-5 6 L-8 11 M5 6 L8 11 M-6.5 9 H6.5" stroke="#1c1d4f" stroke-width="1.6" fill="none"/>
</g>
<line x1="604.00" y1="629.00" x2="604.00" y2="633.00" stroke="#1c1d4f" stroke-width="1" stroke-linecap="butt"/>
<line x1="604.00" y1="662.00" x2="604.00" y2="667.00" stroke="#1c1d4f" stroke-width="1" stroke-linecap="butt"/>
<g transform="translate(621.50 669.00) scale(0.600)">
<rect x="-8" y="-10" width="16" height="17" rx="4" fill="#1c1d4f"/>
<rect x="-6" y="-6.5" width="12" height="6" rx="1" fill="#ffffff"/>
<rect x="-8" y="5" width="4" height="5" rx="1" fill="#1c1d4f"/>
<rect x="4" y="5" width="4" height="5" rx="1" fill="#1c1d4f"/>
<circle cx="-4.5" cy="3" r="1.3" fill="#ffffff"/>
<circle cx="4.5" cy="3" r="1.3" fill="#ffffff"/>
</g>
<line x1="629" y1="669" x2="641" y2="669" stroke="#1c1d4f" stroke-width="1.2" stroke-dasharray="1.4 1.2"/>
<path d="M640.5 666.5 L644.5 669 L640.5 671.5 Z" fill="#1c1d4f"/>
<path transform="translate(653.00 669.00) scale(0.620)" d="M0 -10 C1.2 -10 1.6 -8.5 1.6 -7 L1.6 -2.5 L10 2.2 L10 4 L1.6 1.8 L1.4 6.5 L4 8.5 L4 10 L0 9 L-4 10 L-4 8.5 L-1.4 6.5 L-1.6 1.8 L-10 4 L-10 2.2 L-1.6 -2.5 L-1.6 -7 C-1.6 -8.5 -1.2 -10 0 -10 Z" fill="#1c1d4f"/>
<text x="653.50" y="685.50" font-size="9.2" fill="#1c1d4f" text-anchor="middle">KBP</text>
<rect x="493.90" y="880.90" width="24.40" height="24.40" rx="5" fill="#ffd100" stroke="#1c1d4f" stroke-width="1.8"/>
<g transform="translate(506.00 893.00) scale(0.850)">
<rect x="-8" y="-10" width="16" height="17" rx="4" fill="#1c1d4f"/>
<rect x="-6" y="-6.5" width="12" height="6" rx="1" fill="#ffd100"/>
<rect x="-8" y="5" width="4" height="5" rx="1" fill="#1c1d4f"/>
<rect x="4" y="5" width="4" height="5" rx="1" fill="#1c1d4f"/>
<circle cx="-4.5" cy="3" r="1.3" fill="#ffd100"/>
<circle cx="4.5" cy="3" r="1.3" fill="#ffd100"/>
</g>
<rect x="295.90" y="679.90" width="24.40" height="24.40" rx="5" fill="#ffd100" stroke="#1c1d4f" stroke-width="1.8"/>
<path transform="translate(308.00 692.00) scale(0.900)" d="M0 -10 C1.2 -10 1.6 -8.5 1.6 -7 L1.6 -2.5 L10 2.2 L10 4 L1.6 1.8 L1.4 6.5 L4 8.5 L4 10 L0 9 L-4 10 L-4 8.5 L-1.4 6.5 L-1.6 1.8 L-10 4 L-10 2.2 L-1.6 -2.5 L-1.6 -7 C-1.6 -8.5 -1.2 -10 0 -10 Z" fill="#1c1d4f"/>
<text x="307.50" y="717.00" font-size="11.5" fill="#1c1d4f" text-anchor="middle" font-weight="bold">IEV</text>
<text x="315.50" y="728.70" font-size="8.6" fill="#2a2b6b" text-anchor="middle" font-style="italic" textLength="92" lengthAdjust="spacingAndGlyphs">Аеропорт «Жуляни»</text>
<text x="270.00" y="739.50" font-size="7.1" fill="#66689f" font-style="italic" textLength="56" lengthAdjust="spacingAndGlyphs">Zhuliany Airport</text>
<rect x="1406.40" y="801.90" width="25.40" height="24.60" rx="5" fill="#ffd100" stroke="#1c1d4f" stroke-width="1.8"/>
<path transform="translate(1419.00 814.00) scale(0.900)" d="M0 -10 C1.2 -10 1.6 -8.5 1.6 -7 L1.6 -2.5 L10 2.2 L10 4 L1.6 1.8 L1.4 6.5 L4 8.5 L4 10 L0 9 L-4 10 L-4 8.5 L-1.4 6.5 L-1.6 1.8 L-10 4 L-10 2.2 L-1.6 -2.5 L-1.6 -7 C-1.6 -8.5 -1.2 -10 0 -10 Z" fill="#1c1d4f"/>
<text x="1418.50" y="838.50" font-size="10.5" fill="#1c1d4f" text-anchor="middle" font-weight="bold">KBP</text>
<g transform="translate(1376.50 814.00) scale(0.550)">
<rect x="-8" y="-10" width="16" height="17" rx="4" fill="#1c1d4f"/>
<rect x="-6" y="-6.5" width="12" height="6" rx="1" fill="#ffffff"/>
<rect x="-8" y="5" width="4" height="5" rx="1" fill="#1c1d4f"/>
<rect x="4" y="5" width="4" height="5" rx="1" fill="#1c1d4f"/>
<circle cx="-4.5" cy="3" r="1.3" fill="#ffffff"/>
<circle cx="4.5" cy="3" r="1.3" fill="#ffffff"/>
</g>
<line x1="1384" y1="814" x2="1397" y2="814" stroke="#1c1d4f" stroke-width="1.2" stroke-dasharray="1.4 1.2"/>
<path d="M1396.5 811.5 L1400.5 814 L1396.5 816.5 Z" fill="#1c1d4f"/>
<rect x="153.00" y="983.00" width="164.00" height="65.00" rx="0" fill="#eceef4" />
<path d="M169.12 1008.30 A6.40 6.40 0 1 1 174.08 1008.30 Z" fill="#484a84"/>
<text x="171.60" y="1005.58" font-size="8" fill="#ffffff" text-anchor="middle" font-weight="bold" textLength="6.66" lengthAdjust="spacingAndGlyphs">M</text>
<rect x="165.20" y="1010.50" width="12.60" height="12.40" rx="3" fill="#484a84" />
<text x="171.50" y="1019.60" font-size="7.5" fill="#ffffff" text-anchor="middle" font-weight="bold">E</text>
<rect x="165.20" y="1024.60" width="12.60" height="12.40" rx="3" fill="#484a84" />
<text x="171.50" y="1033.70" font-size="7.5" fill="#ffffff" text-anchor="middle" font-weight="bold">T</text>
<text x="191.00" y="1005.30" font-size="9.6" fill="#484a84" textLength="51" lengthAdjust="spacingAndGlyphs" stroke="#484a84" stroke-width="0.15">6:00 — 00:30</text>
<text x="191.00" y="1019.70" font-size="9.6" fill="#484a84" textLength="104" lengthAdjust="spacingAndGlyphs" stroke="#484a84" stroke-width="0.15">6:00 — 10:00, 16:00 — 21:00</text>
<text x="191.00" y="1033.80" font-size="9.6" fill="#484a84" textLength="51" lengthAdjust="spacingAndGlyphs" stroke="#484a84" stroke-width="0.15">5:00 — 00:00</text>
<rect x="1293.50" y="1029.30" width="63.70" height="12.40" rx="0" fill="#b9bdd3" stroke="#2f3170" stroke-width="1"/>
<circle cx="1301.80" cy="1035.50" r="4.30" fill="#ffffff" stroke="#2f3170" stroke-width="1.4"/>
<text x="1301.80" y="1037.30" font-size="5.2" fill="#2f3170" text-anchor="middle" font-weight="bold">cc</text>
<rect x="1311.00" y="1031.00" width="44.00" height="9.00" rx="0" fill="#2f3170" />
<text x="1332.00" y="1038.40" font-size="6.6" fill="#ffffff" text-anchor="middle" font-weight="bold" textLength="32" lengthAdjust="spacingAndGlyphs">BY-NC-SA</text>
<text x="1372.60" y="1038.70" font-size="9.4" fill="#34356f" textLength="129" lengthAdjust="spacingAndGlyphs" stroke="#34356f" stroke-width="0.12">Дизайн Ігоря Скляревського</text>
<text x="1372.60" y="1047.80" font-size="6.6" fill="#8082b0" textLength="85" lengthAdjust="spacingAndGlyphs">Design by Igor Skliarevsky</text>
<path d="M1229.8 104 Q1250 73 1279.5 54.8" fill="none" stroke="#c0c2dc" stroke-width="0.9"/>
<circle cx="1476.00" cy="280.80" r="1.40" fill="#2a2b6b"/>
<rect x="1232.30" y="718.50" width="17.00" height="17.40" rx="3.5" fill="#8385b2" />
<text x="1240.80" y="731.30" font-size="11" fill="#ffffff" text-anchor="middle" font-weight="bold">E</text>
</svg></body></html>
